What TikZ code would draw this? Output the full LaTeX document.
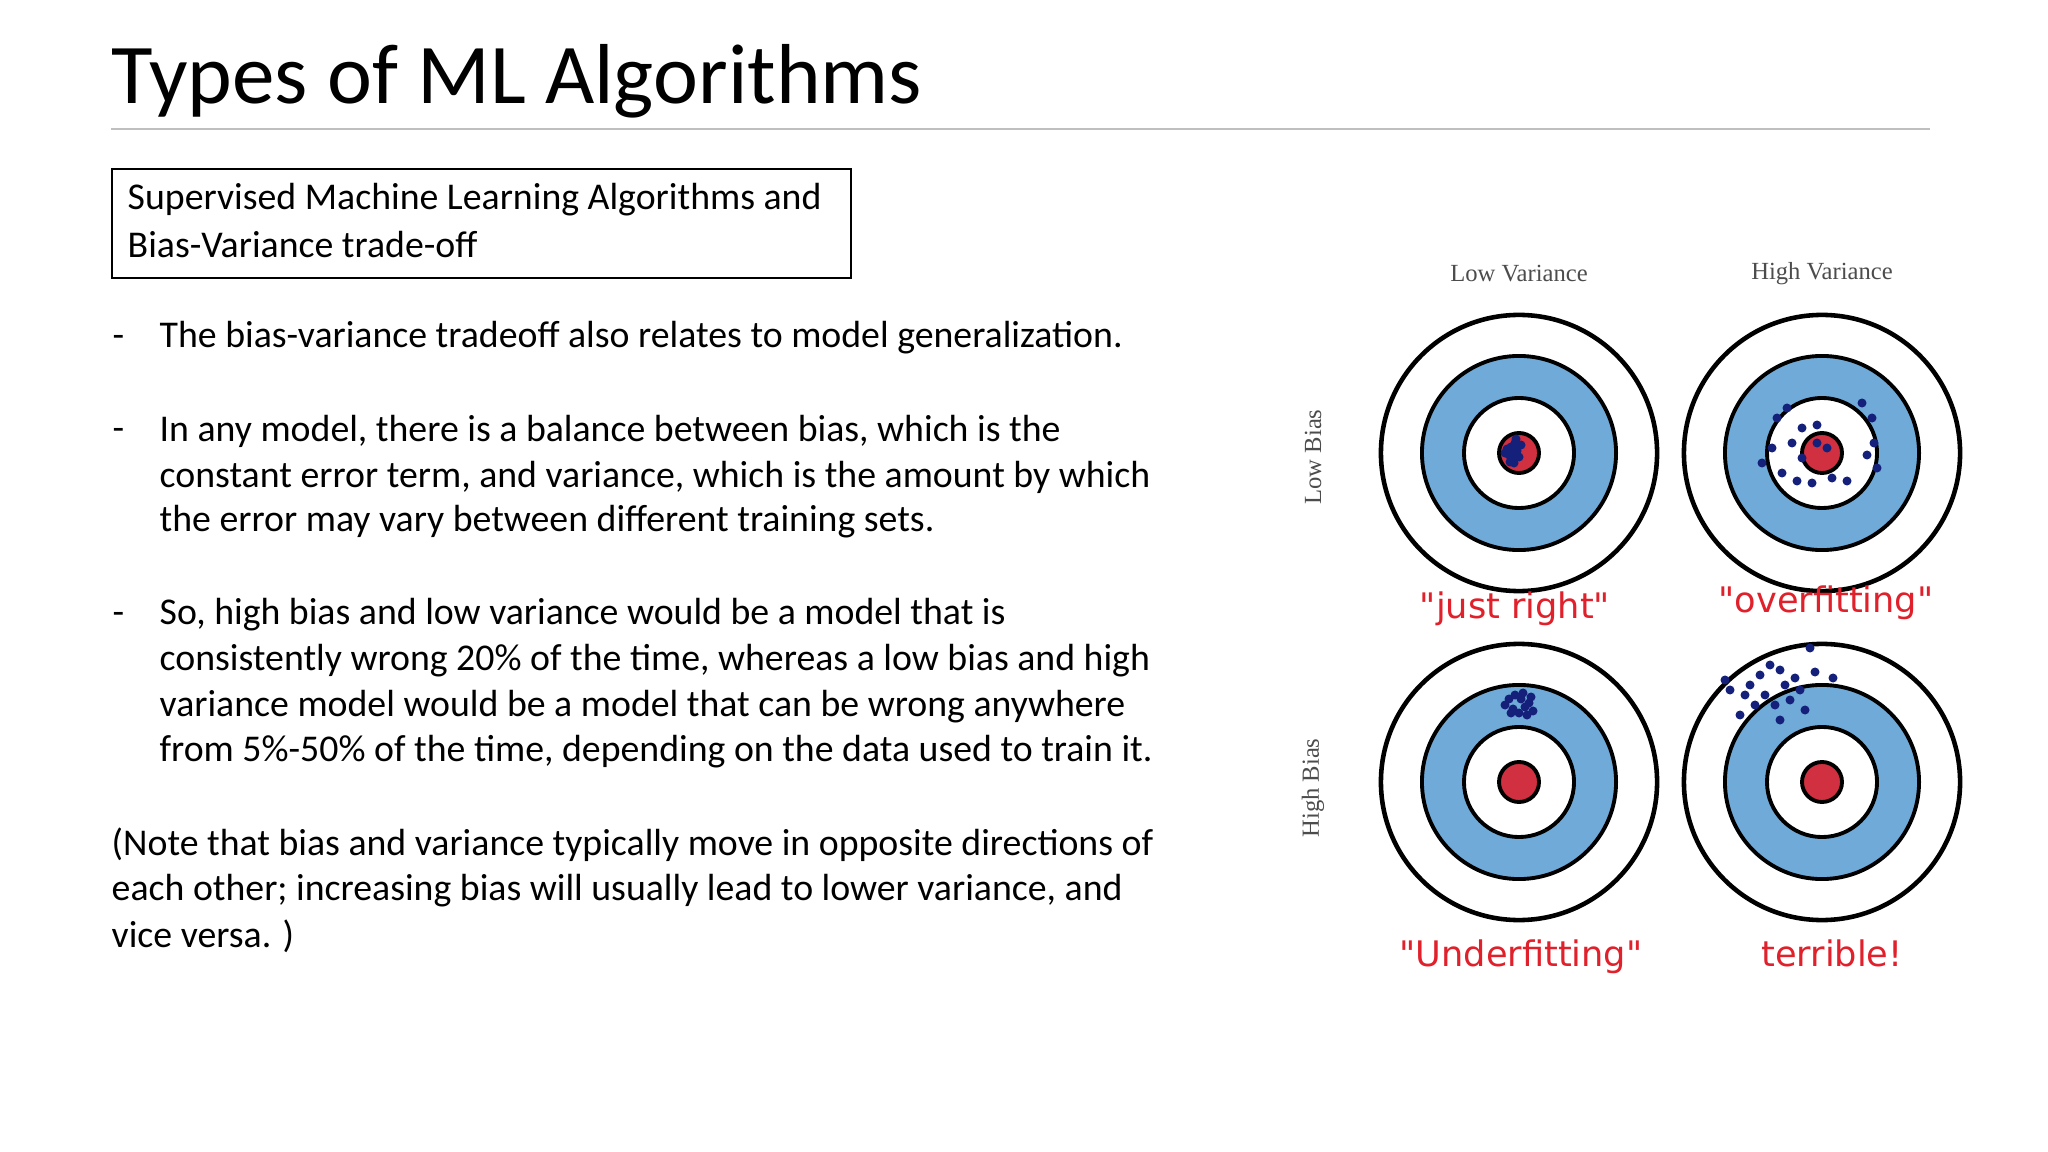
\documentclass[tikz,border=0pt]{standalone}
\usepackage{fontspec}
\setmainfont{Carlito}
\newfontfamily\serifx{Liberation Serif}
\newfontfamily\handx{DejaVu Sans}
\definecolor{tblue}{HTML}{6FAAD8}
\definecolor{tred}{HTML}{D03040}
\definecolor{dnavy}{HTML}{14207A}
\definecolor{hred}{HTML}{E0202A}
\begin{document}
\begin{tikzpicture}[x=0.01cm,y=-0.01cm,
  body/.style={anchor=west,inner sep=0pt,font=\fontsize{10.75}{13}\selectfont},
  dotx/.style={fill=dnavy},
  axlab/.style={font=\serifx\fontsize{7}{8}\selectfont,text=black!70},
  hand/.style={font=\handx\fontsize{10}{12}\selectfont,text=hred}]
\useasboundingbox (0,0) rectangle (2048,1152);
\node[anchor=base west,inner sep=0pt,font=\fontsize{24.2}{28}\selectfont] (title) at (111,104) {Types of ML Algorithms};
\draw[black!25,line width=0.4pt] (111,129) -- (1930,129);
\node[draw,line width=0.5pt,anchor=north west,minimum width=739*0.01cm,minimum height=109*0.01cm,inner sep=0pt] (box) at (111,168) {};
\node[body] (b1) at (127,200) {Supervised Machine Learning Algorithms and};
\node[body] (b2) at (127,245) {Bias-Variance trade-off};
\foreach \y in {338,431,615} \node[body] at (112,\y+3) {-};
\node[body] (l1) at (159,338) {The bias-variance tradeoff also relates to model generalization.};
\node[body] (l2) at (159,431) {In any model, there is a balance between bias, which is the};
\node[body] (l3) at (159,477) {constant error term, and variance, which is the amount by which};
\node[body] (l4) at (159,522) {the error may vary between different training sets.};
\node[body] (l5) at (159,615) {So, high bias and low variance would be a model that is};
\node[body] (l6) at (159,661) {consistently wrong 20\% of the time, whereas a low bias and high};
\node[body] (l7) at (159,707) {variance model would be a model that can be wrong anywhere};
\node[body] (l8) at (159,752) {from 5\%-50\% of the time, depending on the data used to train it.};
\node[body] (n1) at (111,845) {(Note that bias and variance typically move in opposite directions of};
\node[body] (n2) at (111,891) {each other; increasing bias will usually lead to lower variance, and};
\node[body] (n3) at (111,936) {vice versa. )};
% targets
\foreach \cx/\cy in {1519/453,1822/453,1519/782,1822/782}{
  \draw[line width=1.3pt,fill=white] (\cx,\cy) circle[radius=1.38cm];
  \draw[line width=1.1pt,fill=tblue] (\cx,\cy) circle[radius=0.97cm];
  \draw[line width=1.1pt,fill=white] (\cx,\cy) circle[radius=0.55cm];
  \draw[line width=1.1pt,fill=tred] (\cx,\cy) circle[radius=0.20cm];
}
\foreach \dx/\dy in {-8/-6,-4/-10,-10/2,-6/6,-2/-2,-12/-4,-5/10,2/-8,-9/9,0/4,-14/0,-3/-14,-7/-1}
  \fill[dotx] (1519+\dx,453+\dy) circle[radius=0.045cm];
\foreach \dx/\dy in {-45/-35,-35/-45,-20/-25,-5/-10,40/-50,50/-35,-60/10,-50/-5,-40/20,-25/28,-10/30,10/25,25/28,45/2,52/-10,55/15,-20/5,-5/-28,5/-5,-30/-10}
  \fill[dotx] (1822+\dx,453+\dy) circle[radius=0.045cm];
\foreach \dx/\dy in {-10/-6,-4/-10,-14/0,-6/4,2/-6,6/2,10/-2,0/8,8/10,14/6,-8/8,4/-12,12/-8}
  \fill[dotx] (1519+\dx,705+\dy) circle[radius=0.045cm];
\foreach \dx/\dy in {-60/-20,-55/-10,25/-52,-15/-35,-5/-30,10/-22,30/-28,48/-22,-35/-15,-20/-5,-10/5,5/0,-30/5,-45/15,-25/-25,0/-15,15/-10,-40/-5,20/10,-5/20}
  \fill[dotx] (1785+\dx,700+\dy) circle[radius=0.045cm];
\node[axlab] (lv) at (1519,274) {Low Variance};
\node[axlab] (hv) at (1822,274) {High Variance};
\node[axlab,rotate=90] (lb) at (1313,457) {Low Bias};
\node[axlab,rotate=90] (hb) at (1313,788) {High Bias};
\node[hand] (h1) at (1515,609) {"just right"};
\node[hand] (h2) at (1826,603) {"overfitting"};
\node[hand] (h3) at (1521,957) {"Underfitting"};
\node[hand] (h4) at (1832,953) {terrible!};
\end{tikzpicture}
\end{document}
